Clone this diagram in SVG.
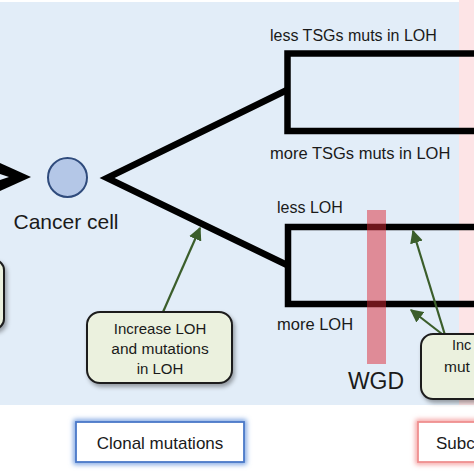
<svg xmlns="http://www.w3.org/2000/svg" width="474" height="474" viewBox="0 0 474 474">
<defs>
<style>
.t{font-family:"Liberation Sans",Arial,sans-serif;fill:#1a1a1a}
.blk{fill:none;stroke:#000;stroke-width:6.5}
.grn{stroke:#3b5e2b;stroke-width:2.2;fill:none}
.note{fill:#ebf1de;stroke:#1e1e1e;stroke-width:2}
</style>
<marker id="ah" viewBox="0 0 10 10" refX="9" refY="5" markerWidth="6" markerHeight="6" orient="auto" markerUnits="strokeWidth">
<path d="M0,0 L10,5 L0,10 z" fill="#3b5e2b"/>
</marker>
<filter id="sh" x="-20%" y="-20%" width="140%" height="150%">
<feDropShadow dx="2" dy="3" stdDeviation="2" flood-color="#000" flood-opacity="0.35"/>
</filter>
<filter id="glow" x="-20%" y="-40%" width="140%" height="180%">
<feGaussianBlur stdDeviation="2.5"/>
</filter>
</defs>
<rect width="474" height="474" fill="#fff"/>
<rect x="0" y="2" width="459" height="403" fill="#e2edf8"/>
<rect x="459" y="0" width="15" height="405" fill="#fde4e6"/>

<g id="connectors">
<polyline class="blk" points="287,90 107,178 287,265" stroke-linejoin="miter"/>
<polyline class="blk" points="480,53.5 287.5,53.5 287.5,131 480,131"/>
<polyline class="blk" points="480,227 288,227 288,304 480,304"/>
<line class="grn" x1="163" y1="312" x2="200" y2="228" marker-end="url(#ah)"/>
<line class="grn" x1="445" y1="335" x2="413" y2="231" marker-end="url(#ah)"/>
<line class="grn" x1="442" y1="334" x2="411" y2="310" marker-end="url(#ah)"/>
</g>

<g id="input-arrow">
<polygon points="0,163 31,177 0,191" fill="#000"/>
<polygon points="0,174 9,177 0,180" fill="#e2edf8"/>
</g>

<g id="cancer-cell">
<circle cx="67.5" cy="177.5" r="19.5" fill="#b4c7e7" stroke="#2f4b7c" stroke-width="2"/>
<text class="t" x="66" y="229" font-size="21" text-anchor="middle">Cancer cell</text>
</g>

<g id="labels">
<text class="t" x="270" y="41" font-size="16">less TSGs muts in LOH</text>
<text class="t" x="270" y="159" font-size="16.5">more TSGs muts in LOH</text>
<text class="t" x="277" y="213" font-size="16">less LOH</text>
<text class="t" x="277" y="330" font-size="16.5">more LOH</text>
</g>

<g id="wgd">
<rect x="367" y="210" width="19" height="154" fill="#dc2a36" fill-opacity="0.5"/>
<text class="t" x="376" y="389" font-size="23" text-anchor="middle">WGD</text>
</g>

<g id="left-note">
<rect class="note" x="-150" y="260" width="154" height="69" rx="10" filter="url(#sh)"/>
</g>

<g id="note-clonal">
<rect class="note" x="87" y="312" width="145" height="71" rx="13" filter="url(#sh)"/>
<text class="t" x="160" y="334" font-size="15" text-anchor="middle">Increase LOH</text>
<text class="t" x="160" y="354" font-size="15.5" text-anchor="middle">and mutations</text>
<text class="t" x="160" y="374" font-size="15" text-anchor="middle">in LOH</text>
</g>

<g id="note-subclonal">
<rect class="note" x="421" y="334" width="90" height="65" rx="12" filter="url(#sh)"/>
<text class="t" x="452" y="350" font-size="14.5">Inc</text>
<text class="t" x="444" y="372" font-size="15.5">mut</text>
</g>

<g id="legend-clonal">
<rect x="76" y="422" width="168" height="40" fill="none" stroke="#6f9be0" stroke-width="5" filter="url(#glow)"/>
<rect x="76" y="422" width="168" height="40" fill="#fff" stroke="#4a78c8" stroke-width="1.8"/>
<text class="t" x="160" y="449" font-size="17" text-anchor="middle">Clonal mutations</text>
</g>

<g id="legend-subclonal">
<rect x="418" y="422" width="120" height="40" fill="none" stroke="#f49a9a" stroke-width="5" filter="url(#glow)"/>
<rect x="418" y="422" width="120" height="40" fill="#fff" stroke="#ef8f8f" stroke-width="1.8"/>
<text class="t" x="436" y="449" font-size="17">Subc</text>
</g>
</svg>
